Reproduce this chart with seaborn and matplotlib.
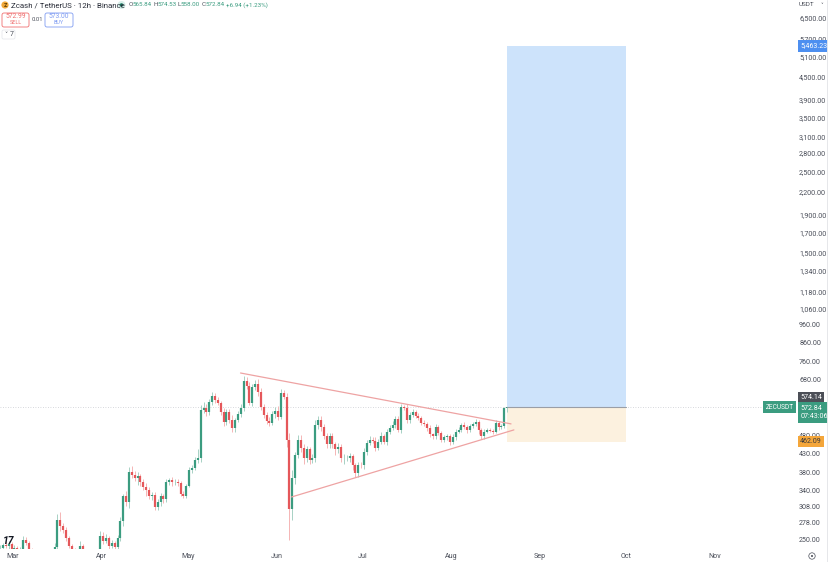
import matplotlib
matplotlib.use("Agg")
import matplotlib.pyplot as plt
from matplotlib.patches import Circle, FancyBboxPatch
from matplotlib.ticker import NullLocator
import pandas as pd
import seaborn as sns

# 178 candles, first one sits left of the Mar label
first_date = "2026-02-24 12:00"
first_open = 238
closes = [
    238, 242, 241, 244, 236, 238, 232, 232, 250, 245,
    235, 230, 228, 226, 225, 226, 228, 226, 230, 239,
    284, 272, 266, 253, 241, 235, 232, 233, 241, 235,
    230, 228, 228, 229, 232, 256, 248, 253, 241, 245,
    239, 253, 281, 328, 316, 381, 376, 367, 372, 358,
    347, 341, 328, 332, 307, 316, 328, 322, 358, 363,
    358, 360, 356, 334, 330, 351, 386, 393, 413, 418,
    563, 570, 556, 592, 614, 599, 588, 556, 523, 556,
    529, 504, 529, 549, 570, 675, 654, 588, 650, 662,
    630, 574, 546, 526, 520, 549, 560, 539, 626, 610,
    468, 303, 369, 426, 468, 445, 418, 440, 413, 418,
    513, 529, 507, 477, 454, 477, 454, 440, 448, 418,
    418, 418, 421, 398, 379, 400, 398, 434, 459, 468,
    465, 445, 462, 477, 462, 492, 504, 513, 533, 498,
    574, 570, 529, 546, 556, 543, 536, 520, 517, 504,
    483, 477, 507, 489, 468, 474, 477, 462, 474, 492,
    498, 513, 507, 498, 510, 517, 523, 498, 477, 492,
    498, 495, 492, 520, 507, 510, 570, 572.84,
]
wick_up = [
    5, 4, 6, 5, 3, 4, 3, 8, 6, 4,
    3, 3, 2, 3, 2, 3, 3, 2, 4, 6,
    10, 14, 6, 5, 4, 3, 3, 4, 8, 3,
    2, 3, 2, 3, 3, 9, 7, 6, 4, 5,
    4, 5, 8, 6, 12, 14, 16, 8, 10, 6,
    8, 9, 7, 6, 5, 6, 7, 5, 8, 6,
    7, 6, 5, 6, 5, 4, 8, 6, 7, 22,
    18, 20, 14, 10, 16, 12, 10, 9, 14, 10,
    12, 16, 8, 12, 14, 22, 18, 16, 14, 18,
    20, 16, 12, 10, 14, 10, 12, 18, 16, 12,
    14, 20, 18, 8, 12, 14, 9, 10, 8, 10,
    16, 14, 12, 10, 12, 10, 12, 8, 10, 8,
    9, 7, 8, 6, 5, 8, 6, 9, 8, 10,
    7, 9, 8, 14, 8, 9, 10, 12, 9, 10,
    12, 8, 14, 9, 10, 8, 9, 7, 8, 6,
    8, 6, 8, 7, 6, 8, 7, 8, 9, 7,
    8, 6, 8, 5, 7, 6, 8, 6, 5, 7,
    5, 4, 6, 8, 6, 5, 4, 1.69,
]
wick_down = [
    3, 4, 3, 5, 3, 4, 3, 3, 4, 3,
    3, 3, 2, 2, 3, 2, 2, 3, 2, 3,
    4, 8, 5, 4, 3, 3, 2, 3, 3, 2,
    3, 2, 2, 3, 2, 3, 4, 3, 4, 3,
    4, 3, 4, 9, 6, 10, 8, 6, 14, 8,
    6, 12, 5, 7, 6, 5, 6, 8, 5, 6,
    7, 5, 6, 5, 6, 5, 4, 6, 5, 8,
    12, 10, 14, 9, 12, 10, 9, 10, 14, 9,
    10, 14, 12, 8, 10, 12, 14, 9, 10, 12,
    14, 12, 10, 9, 12, 8, 14, 10, 8, 9,
    20, 53, 20, 14, 9, 12, 16, 10, 12, 8,
    10, 14, 12, 8, 10, 9, 10, 14, 9, 12,
    16, 8, 10, 12, 9, 8, 7, 8, 9, 7,
    8, 9, 7, 8, 6, 9, 8, 7, 10, 8,
    9, 8, 10, 9, 7, 8, 6, 8, 7, 9,
    8, 7, 6, 9, 8, 7, 6, 9, 7, 8,
    6, 7, 8, 9, 7, 8, 9, 14, 7, 8,
    6, 5, 7, 6, 9, 7, 8, 14.84,
]

# trend lines and long position tool
upper_dates = ["2026-05-19 10:00", "2026-08-21 20:00"]
upper_prices = [709, 516]
lower_dates = ["2026-06-06 06:00", "2026-08-22 20:00"]
lower_prices = [327, 497]
position_dates = ["2026-08-20 12:00", "2026-10-01 00:00"]
entry_price = 574.14
target_price = 5463.23
stop_price = 462.09
last_price = 572.84

price_ticks = [250, 278, 308, 340, 380, 430, 480, 680, 760, 860, 960, 1060, 1180,
               1340, 1500, 1700, 1900, 2200, 2500, 2800, 3100, 3500, 3900, 4500,
               5100, 5700, 6500]
month_ticks = ["2026-03-01", "2026-04-01", "2026-05-01", "2026-06-01", "2026-07-01",
               "2026-08-01", "2026-09-01", "2026-10-01", "2026-11-01"]
month_labels = ["Mar", "Apr", "May", "Jun", "Jul", "Aug", "Sep", "Oct", "Nov"]

sns.set_theme(style="white")
plt.rcParams["font.family"] = ["Roboto", "DejaVu Sans"]

GREEN = "#3b9c80"
RED = "#e5575a"
GREY = "#4a4e59"

fig = plt.figure(figsize=(8.29, 5.62), dpi=100)
ax = fig.add_axes([0, 13 / 562, 795 / 829, 549 / 562])

dates = pd.date_range(first_date, periods=len(closes), freq="D")
opens = [first_open] + closes[:-1]
candles = pd.DataFrame({"date": dates, "open": opens, "close": closes,
                        "up": wick_up, "down": wick_down})
candles["side"] = ["up" if c >= o else "down" for o, c in zip(opens, closes)]
candles["top"] = candles[["open", "close"]].max(axis=1)
candles["bottom"] = candles[["open", "close"]].min(axis=1)
candles["high"] = candles["top"] + candles["up"]
candles["low"] = candles["bottom"] - candles["down"]

wicks = candles.melt(id_vars=["date", "side"], value_vars=["high", "low"], value_name="price")
bodies = candles.melt(id_vars=["date", "side"], value_vars=["top", "bottom"], value_name="price")

# position boxes first so the candles land over them
box_x = pd.to_datetime(position_dates)
ax.fill_between(box_x, entry_price, target_price, color="#cde3fb", lw=0, zorder=1)
ax.fill_between(box_x, stop_price, entry_price, color="#fcf1df", lw=0, zorder=1)
ax.axhline(last_price, color="#c9cbd1", lw=0.6, ls=(0, (1, 2)), zorder=1)

sns.lineplot(data=wicks, x="date", y="price", hue="side", units="date", estimator=None,
             palette={"up": "#a7d1c4", "down": "#f5b5b5"}, lw=0.7, legend=False, ax=ax,
             zorder=2, solid_capstyle="butt")
sns.lineplot(data=bodies, x="date", y="price", hue="side", units="date", estimator=None,
             palette={"up": GREEN, "down": RED}, lw=1.6, legend=False, ax=ax,
             zorder=3, solid_capstyle="butt")

for line_dates, line_prices in [(upper_dates, upper_prices), (lower_dates, lower_prices)]:
    sns.lineplot(x=pd.to_datetime(line_dates), y=line_prices, color="#eea3a3", lw=0.9, ax=ax, zorder=4)
sns.lineplot(x=box_x, y=[entry_price, entry_price], color="#9a9ea6", lw=0.8, ax=ax, zorder=4)

ax.set_yscale("log")
ax.set_ylim(236.3, 7277)
# 1 px shift so the month labels land where the reference has them
ax.set_xlim(pd.Timestamp("2026-03-01") - pd.Timedelta(days=4.54),
            pd.Timestamp("2026-03-01") + pd.Timedelta(days=272.95))
ax.set_xlabel("")
ax.set_ylabel("")
sns.despine(ax=ax, left=True, right=True, top=True, bottom=True)

ax.yaxis.tick_right()
ax.set_yticks(price_ticks)
ax.set_yticklabels([f"{p:,.2f}" for p in price_ticks])
ax.yaxis.set_minor_locator(NullLocator())
ax.set_xticks(pd.to_datetime(month_ticks))
ax.set_xticklabels(month_labels)
ax.tick_params(axis="y", length=0, pad=3, labelsize=5.1, labelcolor=GREY)
ax.tick_params(axis="x", length=0, pad=2.6, labelsize=5.1, labelcolor=GREY)

# price tags on the axis
tag_trans = ax.get_yaxis_transform()
ax.text(1.0065, target_price, f"{target_price:,.2f}", transform=tag_trans, color="white", fontsize=5.1,
        va="center", bbox=dict(fc="#4d8ff0", ec="none", pad=1.9), zorder=6)
ax.text(1.0065, stop_price, f"{stop_price:,.2f}", transform=tag_trans, color="#3a3a3a", fontsize=5.1,
        va="center", bbox=dict(fc="#f4a63a", ec="none", pad=1.4), zorder=6)
ax.annotate(f"{entry_price:,.2f}", xy=(1.0065, entry_price), xycoords=tag_trans, xytext=(0, 4.4),
            textcoords="offset points", color="white", fontsize=5.1, va="bottom",
            bbox=dict(fc="#4c4f57", ec="none", pad=1.5), zorder=6, annotation_clip=False)
ax.annotate(f"{last_price:,.2f}\n07:43:06", xy=(1.0065, last_price), xycoords=tag_trans, xytext=(0, 1.6),
            textcoords="offset points", color="white", fontsize=5.1, va="top", linespacing=1.2,
            bbox=dict(fc=GREEN, ec="none", pad=1.9), zorder=6, annotation_clip=False)
ax.text(0.9985, last_price, "ZECUSDT", transform=tag_trans, color="white", fontsize=4.8, ha="right",
        va="center", bbox=dict(fc=GREEN, ec="none", pad=1.6), zorder=6)

# header and chrome, in pixel coordinates of the screenshot
top = fig.add_axes([0, 0, 1, 1], zorder=10)
top.set_xlim(0, 829)
top.set_ylim(562, 0)
top.axis("off")
top.patch.set_alpha(0)

top.add_patch(Circle((5, 5), 3.6, fc="#f2a93b", ec="none"))
top.text(5, 5.2, "Z", fontsize=4, ha="center", va="center", color="#5a3a00", weight="bold")
top.text(11.5, 5, "Zcash / TetherUS · 12h · Binance", fontsize=5.7, va="center", color="#2a2e39")
top.add_patch(Circle((121.5, 5), 4, fc="#d9f0ea", ec="none"))
top.add_patch(Circle((121.5, 5), 1.8, fc="#1f7a63", ec="none"))
ohlc = [(129, "O", GREY), (132.5, "565.84", GREEN), (154, "H", GREY), (157.5, "574.53", GREEN),
        (178, "L", GREY), (181, "558.00", GREEN), (202, "C", GREY), (205.5, "572.84", GREEN),
        (226, "+6.94 (+1.23%)", GREEN)]
for x, label, color in ohlc:
    top.text(x, 5, label, fontsize=4.5, va="center", color=color)

for x0, w, edge, price, side in [(2, 27, "#ef6f70", "572.99", "SELL"), (45, 28, "#7f9cf2", "573.00", "BUY")]:
    top.add_patch(FancyBboxPatch((x0, 13), w, 14, boxstyle="round,pad=0,rounding_size=2",
                                 fc="white", ec=edge, lw=0.6))
    top.text(x0 + w / 2, 16.8, price, fontsize=4.9, ha="center", va="center", color=edge)
    top.text(x0 + w / 2, 23, side, fontsize=3.9, ha="center", va="center", color=edge)
top.text(37, 19.5, "0.01", fontsize=4.2, ha="center", va="center", color=GREY)
top.add_patch(FancyBboxPatch((2, 30), 13, 9, boxstyle="round,pad=0,rounding_size=1.5",
                             fc="white", ec="#e3e5ea", lw=0.5))
top.text(5.5, 34.6, "˅", fontsize=4.5, ha="center", va="center", color=GREY)
top.text(11.5, 34.6, "7", fontsize=5, ha="center", va="center", color=GREY)

top.text(799, 5, "USDT", fontsize=4.6, va="center", color=GREY)
top.text(822, 5, "˅", fontsize=4, ha="center", va="center", color=GREY)
top.add_patch(Circle((812, 556), 3.2, fc="none", ec=GREY, lw=0.5))
top.add_patch(Circle((812, 556), 1, fc=GREY, ec="none"))
top.plot([827, 827], [0, 562], color="#e6e7ea", lw=0.7)
top.text(9, 541, "17", fontsize=7.5, ha="center", va="center", color="#131722", weight="bold", style="italic")

fig.savefig("out.png", dpi=100)
